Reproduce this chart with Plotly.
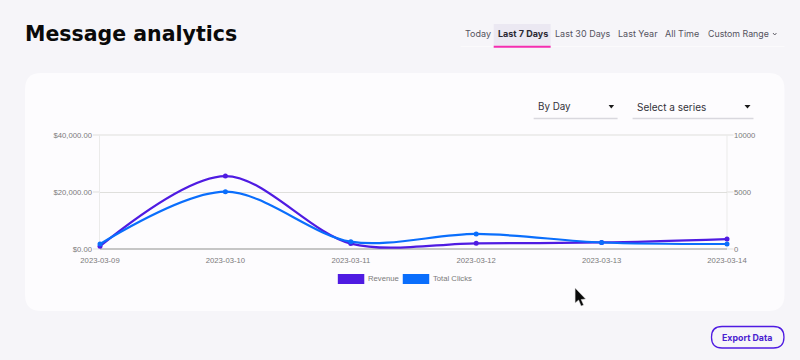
import plotly.graph_objects as go

dates = ["2023-03-09", "2023-03-10", "2023-03-11", "2023-03-12", "2023-03-13", "2023-03-14"]
revenue = [1000, 25600, 1900, 2000, 2300, 3500]
clicks = [440, 5030, 640, 1320, 570, 440]
revenue_ticks = [0, 20000, 40000]
revenue_tick_labels = ["$0.00", "$20,000.00", "$40,000.00"]
clicks_ticks = [0, 5000, 10000]
tabs = ["Today", "Last 7 Days", "Last 30 Days", "Last Year", "All Time", "Custom Range"]

W, H = 800, 360
ML, MR, MT, MB = 100, 72.5, 135, 111
PW, PH = W - ML - MR, H - MT - MB
PURPLE = "#4f1be2"
BLUE = "#0a6efc"
GRID = "#dfdfdc"
SIDE = "#ebebea"
TXT = "#7a7a7a"
TICK_FONT = dict(size=7.7, color=TXT, family="Liberation Sans")


def X(v):
    return (v - ML) / PW


def Y(v):
    return (MT + PH - v) / PH


def rrect(x0, y0, x1, y1, r):
    a0, b0, a1, b1 = X(x0), Y(y0), X(x1), Y(y1)
    rx, ry = r / PW, r / PH
    return (f"M{a0+rx},{b0} L{a1-rx},{b0} Q{a1},{b0} {a1},{b0-ry} L{a1},{b1+ry} Q{a1},{b1} {a1-rx},{b1} "
            f"L{a0+rx},{b1} Q{a0},{b1} {a0},{b1+ry} L{a0},{b0-ry} Q{a0},{b0} {a0+rx},{b0} Z")


def poly(points, close=True):
    return "M" + " L".join(f"{X(a)},{Y(b)}" for a, b in points) + (" Z" if close else "")


def box(x0, y0, x1, y1, fill):
    return dict(type="rect", xref="paper", yref="paper", x0=X(x0), x1=X(x1), y0=Y(y0), y1=Y(y1),
                fillcolor=fill, line_width=0, layer="below")


def hline(x0, x1, y, color, width=1):
    return dict(type="line", xref="paper", yref="paper", x0=X(x0), x1=X(x1), y0=Y(y), y1=Y(y),
                line=dict(color=color, width=width), layer="below")


def vline(x, y0, y1, color, width=1):
    return dict(type="line", xref="paper", yref="paper", x0=X(x), x1=X(x), y0=Y(y0), y1=Y(y1),
                line=dict(color=color, width=width), layer="below")


def path(d, fill, line="rgba(0,0,0,0)", lw=0, layer="below"):
    return dict(type="path", xref="paper", yref="paper", path=d, fillcolor=fill,
                line=dict(color=line, width=lw), layer=layer)


def text(x, y, s, size, color, family="Inter", anchor="left", bold=False):
    return dict(xref="paper", yref="paper", x=X(x), y=Y(y), text=f"<b>{s}</b>" if bold else s,
                showarrow=False, xanchor=anchor, yanchor="middle", align=anchor,
                font=dict(size=size, color=color, family=family), borderpad=0, borderwidth=0)


fig = go.Figure()
fig.add_trace(go.Scatter(x=dates, y=revenue, name="Revenue", yaxis="y", mode="lines+markers",
                         line=dict(color=PURPLE, width=2.2, shape="spline", smoothing=0.92),
                         marker=dict(color=PURPLE, size=5), cliponaxis=False, showlegend=False))
fig.add_trace(go.Scatter(x=dates, y=clicks, name="Total Clicks", yaxis="y2", mode="lines+markers",
                         line=dict(color=BLUE, width=2.2, shape="spline", smoothing=0.92),
                         marker=dict(color=BLUE, size=5), cliponaxis=False, showlegend=False))

shapes = [
    path(rrect(25, 73, 785, 311, 16), "#fdfcfe"),
    box(494, 24, 551, 46, "#ebe8f2"),
    hline(461, 785, 46.5, "#fbfafc"),
    hline(494, 551, 46.7, "#f52db0", 2),
    hline(534, 618, 118.5, "#d9d8de", 1.5),
    hline(633, 754, 118.5, "#d9d8de", 1.5),
    path(poly([(609, 105), (614.5, 105), (611.7, 108.5)]), "#1a1a1a"),
    path(poly([(745, 105), (751, 105), (748, 108.5)]), "#1a1a1a"),
    path(poly([(773.5, 33), (775.3, 35), (777, 33)], close=False), "rgba(0,0,0,0)", "#55535e", 0.9),
    box(338, 274, 364.5, 284, PURPLE),
    box(403, 274, 429.5, 284, BLUE),
    path(rrect(712, 326.5, 784.5, 348, 10.5), "rgba(0,0,0,0)", PURPLE, 1.3),
    hline(93, 734, 135, GRID), hline(93, 100, 192, GRID), hline(727, 734, 192, GRID),
    hline(93, 734, 249, GRID),
    vline(99.5, 135, 249, SIDE), vline(727.5, 135, 249, SIDE),
    hline(100, 727.5, 249, "#b9b9b9", 1.5),
    path(poly([(575.5, 288), (575.5, 303), (579, 300), (581.5, 306), (584, 305), (581.5, 299.5), (586, 299)]),
         "#0a0a0a", "#d8d8d8", 0.5, "above"),
]

annotations = [
    text(25, 33.5, "Message analytics", 20.5, "#0a0a0a", "DejaVu Sans", bold=True),
    text(465, 33.7, tabs[0], 9, "#55535e"),
    text(498, 33.7, tabs[1], 9, "#2a2833", bold=True),
    text(555, 33.7, tabs[2], 9, "#55535e"),
    text(618, 33.7, tabs[3], 9, "#55535e"),
    text(665.5, 33.7, tabs[4], 9, "#55535e"),
    text(708, 33.7, tabs[5], 8.8, "#55535e"),
    text(538, 107, "By Day", 9.8, "#33323a"),
    text(637.5, 107, "Select a series", 10, "#33323a"),
    text(368, 278.5, "Revenue", 7.7, TXT, "Liberation Sans"),
    text(433, 278.5, "Total Clicks", 7.7, TXT, "Liberation Sans"),
    text(748, 337.5, "Export Data", 8.8, "#4a22d0", anchor="center", bold=True),
]

fig.update_layout(
    width=W, height=H, autosize=False,
    margin=dict(l=ML, r=MR, t=MT, b=MB, pad=0),
    paper_bgcolor="#f6f5f9", plot_bgcolor="rgba(0,0,0,0)", showlegend=False,
    shapes=shapes, annotations=annotations,
    xaxis=dict(type="category", categoryorder="array", categoryarray=dates, range=[0, 5],
               showgrid=False, zeroline=False, showline=False,
               ticks="", ticklen=0, ticklabelstandoff=5, tickfont=TICK_FONT, automargin=False),
    yaxis=dict(range=[0, 40000], tickvals=revenue_ticks, ticktext=revenue_tick_labels,
               showgrid=True, gridcolor=GRID, gridwidth=1, zeroline=False, showline=False, ticks="",
               ticklabelstandoff=7, tickfont=TICK_FONT, automargin=False),
    yaxis2=dict(range=[0, 10000], tickvals=clicks_ticks, overlaying="y", side="right", showgrid=False,
                zeroline=False, showline=False, ticks="",
                ticklabelstandoff=6, tickformat="d", tickfont=TICK_FONT, automargin=False),
)
fig.write_html("out.html", config=dict(displayModeBar=False),
               post_script="document.documentElement.style.background='#f6f5f9';document.body.style.margin='0';document.body.style.overflow='hidden';")
